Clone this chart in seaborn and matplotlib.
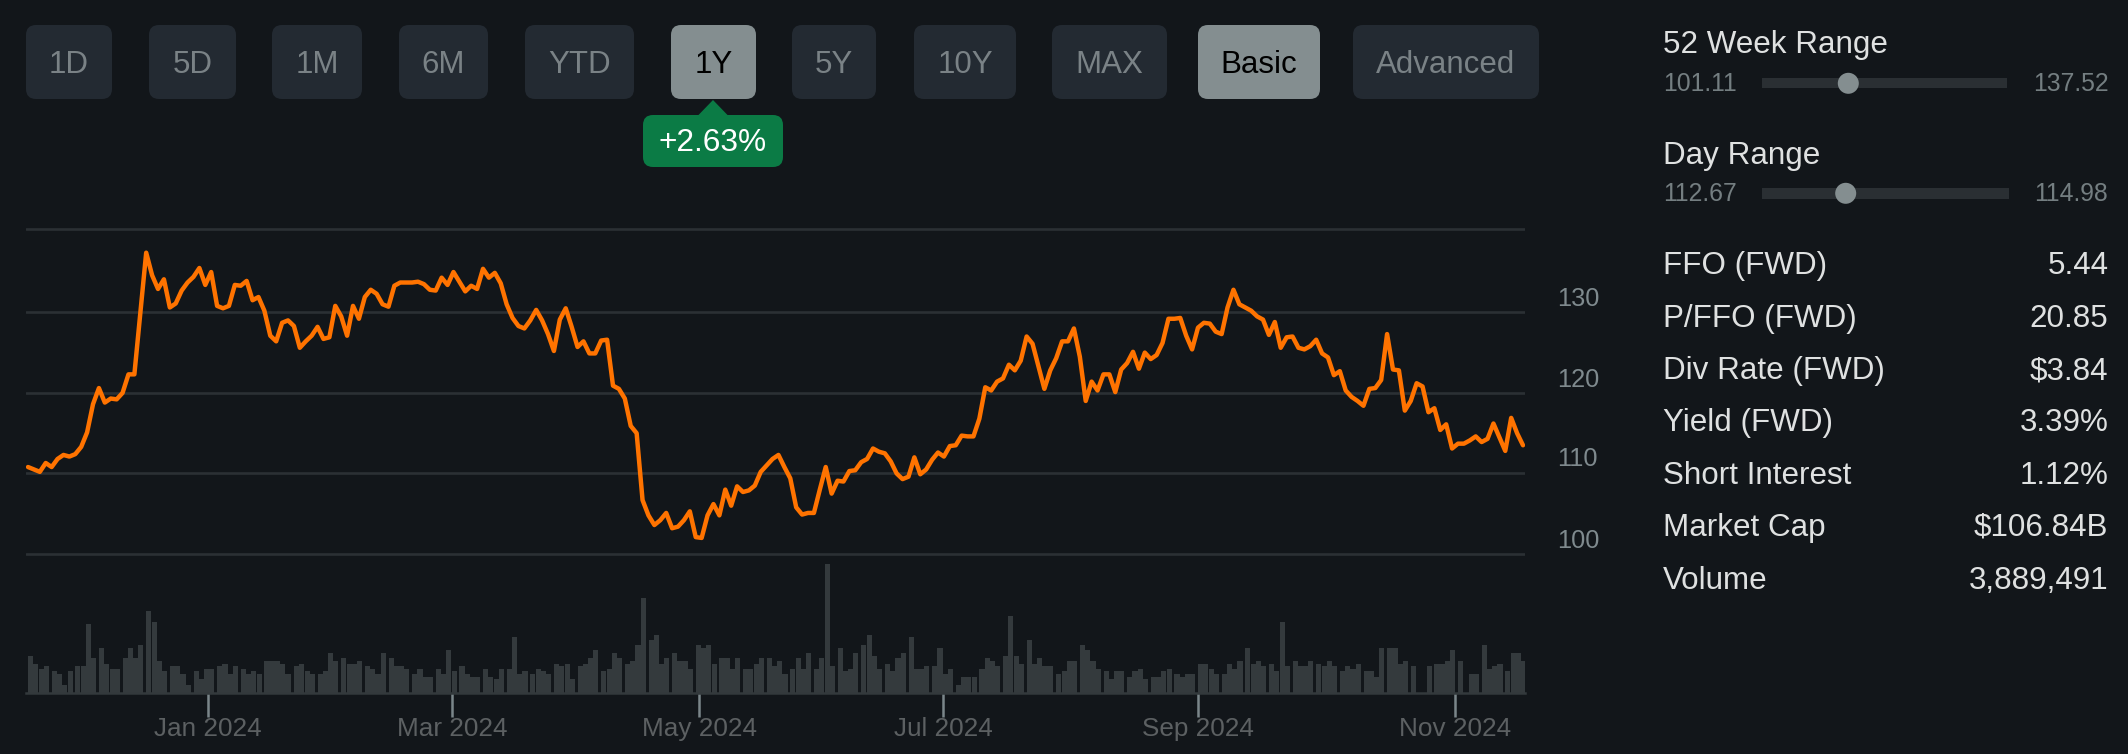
import numpy as np
import matplotlib
matplotlib.use("Agg")
import matplotlib.pyplot as plt
from matplotlib.patches import FancyBboxPatch, Circle, Polygon, Rectangle
from matplotlib.transforms import ScaledTranslation
import seaborn as sns

# ---------- data ----------
price = [
 110.8,110.5,110.2,111.3,110.8,111.8,112.3,112.1,112.4,113.3,115.1,118.6,120.6,118.8,119.3,119.2,120.0,122.3,122.3,129.9,
 137.4,134.6,132.9,134.1,130.6,131.1,132.7,133.7,134.4,135.5,133.4,135.0,130.8,130.5,130.8,133.4,133.3,133.9,131.5,131.9,
 130.2,127.1,126.4,128.7,129.0,128.3,125.6,126.4,127.1,128.2,126.7,126.9,130.8,129.5,127.1,130.8,129.2,131.9,132.8,132.3,
 131.0,130.7,133.3,133.7,133.7,133.7,133.8,133.5,132.8,132.7,134.3,133.4,135.0,133.8,132.6,133.3,132.9,135.4,134.3,134.9,
 133.6,131.0,129.3,128.3,128.0,129.0,130.3,129.0,127.3,
 125.2,129.1,130.5,128.2,125.7,126.4,124.9,124.9,126.5,126.6,120.9,120.5,119.3,115.9,115.0,106.7,104.8,103.6,104.2,105.1,
 103.2,103.4,104.2,105.3,102.1,102.0,104.8,106.2,104.8,108.0,106.0,108.4,107.7,107.9,108.5,110.2,111.0,111.8,112.3,110.8,
 109.4,105.8,104.9,105.1,105.1,108.0,110.8,107.5,109.1,109.0,110.3,110.4,111.4,111.8,113.1,112.7,112.5,111.5,110.0,109.3,
 109.6,112.0,109.9,110.5,111.7,112.6,112.1,113.4,113.5,114.7,114.6,114.6,116.8,120.7,120.3,121.4,121.8,123.5,122.8,124.0,
 127.0,126.1,123.3,120.5,122.8,124.3,126.4,126.4,128.0,124.5,119.0,121.4,120.3,
 122.3,122.3,120.1,122.9,123.7,125.1,123.0,125.0,124.2,124.7,126.2,129.2,129.2,129.3,127.1,125.4,128.1,128.7,128.6,127.6,
 127.3,130.6,132.8,131.0,130.6,130.2,129.5,129.1,127.2,128.8,125.6,126.9,127.0,125.6,125.4,125.8,126.6,124.9,124.4,122.2,
 122.7,120.3,119.5,119.0,118.4,120.5,120.6,121.6,127.3,122.9,122.8,117.8,119.0,121.2,120.8,117.6,118.1,115.4,116.1,113.1,
 113.7,113.7,114.1,114.6,113.9,114.3,116.2,114.5,112.8,116.9,115.0,113.5,
]
volume_m = [
 4.50,3.52,2.92,3.24, 2.59,2.27,0.97,2.59, 3.24,3.24,8.30,4.17, 5.47,3.52,2.92,2.92, 4.17,5.47,4.17,5.75,
 9.92,8.63,3.89,2.59, 3.24,3.24,2.27,0.97, 2.59,1.62,2.92,2.92, 3.24,3.52,2.27,3.24, 2.92,2.27,2.59,2.27,
 3.89,3.89,3.89,3.52,2.27, 3.24,3.52,2.59,2.27, 2.27,2.59,4.82,3.89, 4.17,3.52,3.52,3.89, 3.24,2.92,2.27,4.82,
 4.17,3.24,3.24,2.92, 2.27,2.92,1.94,1.94, 2.92,2.27,5.14,2.59, 3.24,2.27,1.94,1.94, 2.92,1.94,1.62,2.92,
 2.92,6.72,2.27,2.59, 2.27,2.92,2.59,2.27,
 3.52,3.24,3.52,1.62, 3.24,3.52,4.17,5.14, 2.59,2.92,4.82,4.17, 3.52,3.89,5.75,11.54, 6.44,7.05,3.52,4.17,
 4.82,3.89,3.89,2.92, 5.75,5.47,5.75,3.52, 4.17,4.17,2.92,4.17, 2.92,2.92,3.52,4.17, 4.17,3.24,3.89,2.27,
 2.92,4.17,2.92,4.82, 2.92,4.17,15.67,3.24, 5.47,2.59,2.92,4.82, 5.75,7.05,4.50,2.92, 3.52,2.59,4.17,4.82,
 6.72,2.92,2.92,3.24, 3.24,5.47,2.27,2.92, 0.97,1.94,1.94,1.94, 2.92,4.17,3.89,3.24, 4.50,9.27,4.50,3.52,
 6.44,3.52,4.17,3.24,3.24,
 2.27,2.59,3.89,3.89, 5.75,5.14,3.89,2.92, 2.59,1.62,2.59,2.59, 1.94,2.59,2.92,1.62, 1.94,1.94,2.59,2.92,
 2.27,1.94,2.27,2.27, 3.52,3.52,2.92,2.27, 2.27,3.52,2.92,3.89, 5.47,3.52,3.89,3.24, 3.52,2.59,8.63,3.24,
 3.89,3.24,3.24,3.89, 3.52,3.24,3.89,3.24, 2.59,3.24,2.92,3.52, 2.59,2.59,1.94,5.47, 5.47,5.47,3.52,3.89,
 3.24,0,0,3.24, 3.52,3.52,3.89,5.14, 3.89,0,2.27,2.27, 5.75,2.92,3.24,3.52, 2.59,4.82,4.82,3.89,
]
bar_group_sizes = [4]*10 + [5] + [4]*31 + [5] + [4]*20
x_tick_sessions = [30.5, 71.8, 113.6, 154.9, 198.0, 241.5]
x_tick_labels = ["Jan 2024", "Mar 2024", "May 2024", "Jul 2024", "Sep 2024", "Nov 2024"]
grid_values = [100, 110.1, 119.95, 130, 140.4]
y_tick_labels = ["100", "110", "120", "130", ""]

range_buttons = ["1D", "5D", "1M", "6M", "YTD", "1Y", "5Y", "10Y", "MAX", "Basic", "Advanced"]
active_buttons = ["1Y", "Basic"]
change_label = "+2.63%"
stat_names = ["FFO (FWD)", "P/FFO (FWD)", "Div Rate (FWD)", "Yield (FWD)", "Short Interest", "Market Cap", "Volume"]
stat_values = ["5.44", "20.85", "$3.84", "3.39%", "1.12%", "$106.84B", "3,889,491"]
range_titles = ["52 Week Range", "Day Range"]
range_lows = ["101.11", "112.67"]
range_highs = ["137.52", "114.98"]

# ---------- style ----------
BG = "#12161a"; GRID = "#2b3034"; ORANGE = "#ff7300"; BAR = "#343a3d"
BTN = "#232a32"; BTN_ON = "#848e90"; MUTED = "#7a8286"; LIGHT = "#dfe1e1"; TICK = "#7f8a8e"
W, H = 2128, 754
sns.set_theme(style="dark", rc={"figure.facecolor": BG, "axes.facecolor": "none", "savefig.facecolor": BG})
plt.rcParams["font.family"] = ["Liberation Sans", "DejaVu Sans"]

fig = plt.figure(figsize=(W/100, H/100), dpi=100)
def px_axes(left, top, right, bottom, **kw):
    return fig.add_axes([left/W, 1-bottom/H, (right-left)/W, (bottom-top)/H], **kw)

# ---------- UI layer ----------
ui = px_axes(0, 0, W, H)
ui.set_xlim(0, W); ui.set_ylim(H, 0); ui.axis("off")
button_spans = [(26,112),(149,236),(272,362),(399,488),(525,634),(671,756),(792,876),(914,1016),(1052,1167),(1198,1320),(1353,1539)]
for label, (a, b) in zip(range_buttons, button_spans):
    on = label in active_buttons
    r = 10
    ui.add_patch(FancyBboxPatch((a+r, 25+r), b-a-2*r, 74-2*r, boxstyle=f"round,pad={r},rounding_size={r}",
                                fc=BTN_ON if on else BTN, ec="none"))
    ui.text((a+b)/2, 72.7, label, ha="center", va="baseline", fontsize=22.5, color="black" if on else MUTED)
ui.add_patch(Polygon([(713,100),(698,115.5),(728,115.5)], fc="#0b7b45", ec="none"))
ui.add_patch(FancyBboxPatch((653,125), 120, 32, boxstyle="round,pad=10,rounding_size=10", fc="#0b7b45", ec="none"))
ui.text(713, 150.7, change_label, ha="center", va="baseline", fontsize=22.8, color="white")

LX, RX = 1663, 2108.3
slider_spans = [(1762,2007,78,88,1848.3,83.3), (1762,2009,188,199,1845.7,193.3)]
for title, lo, hi, by, vy, (a,b,t,d,cx,cy) in zip(range_titles, range_lows, range_highs, [53.3,164], [91,201.3], slider_spans):
    ui.text(LX, by, title, fontsize=22.6, color=LIGHT, va="baseline")
    ui.text(LX, vy, lo, fontsize=17.8, color="#747e81", va="baseline")
    ui.text(RX, vy, hi, fontsize=17.8, color="#747e81", va="baseline", ha="right")
    ui.add_patch(Rectangle((a,t), b-a, d-t, fc="#2a2f33", ec="none"))
    ui.add_patch(Circle((cx,cy), 10.5, fc=BTN_ON, ec="none"))
for name, val, by in zip(stat_names, stat_values, [274.3,326.7,379,431,484.3,536,589]):
    ui.text(LX, by, name, fontsize=22.6, color=LIGHT, va="baseline")
    ui.text(RX, by, val, fontsize=22.6, color=LIGHT, va="baseline", ha="right")

# ---------- volume ----------
sessions = np.arange(len(price))
bar_x = []
start = 0
for size in bar_group_sizes:
    bar_x += [start + 0.45 + 0.888*k for k in range(size)]
    start += size
xlim = (-0.34, 253.34)
ax_v = px_axes(26, 554, 1525, 692.8)
sns.barplot(x=np.array(bar_x), y=np.array(volume_m), native_scale=True, width=0.97, color=BAR,
            saturation=1, errorbar=None, ax=ax_v)
ax_v.set_xlim(*xlim); ax_v.set_ylim(0, 16.86)
ax_v.set_yticks([]); ax_v.set_ylabel(""); ax_v.set_xlabel("")
for s in ["top", "left", "right"]:
    ax_v.spines[s].set_visible(False)
ax_v.spines["bottom"].set_color("#33393c"); ax_v.spines["bottom"].set_linewidth(1.8)
ax_v.set_xticks(x_tick_sessions); ax_v.set_xticklabels(x_tick_labels)
ax_v.tick_params(axis="x", length=17.3, width=1.8, color="#7b868a", labelcolor="#5c6062",
                 labelsize=18.8, pad=0, bottom=True)
for t in ax_v.patches:
    t.set_linewidth(0)

# ---------- price ----------
ax_p = px_axes(26, 210, 1525, 560)
sns.lineplot(x=sessions, y=price, color=ORANGE, lw=3.2, ax=ax_p, errorbar=None,
             solid_joinstyle="round", solid_capstyle="round")
ax_p.set_xlim(*xlim); ax_p.set_ylim(99.26, 142.7)
ax_p.set_xticks([]); ax_p.set_xlabel(""); ax_p.set_ylabel("")
for s in ax_p.spines.values():
    s.set_visible(False)
ax_p.yaxis.tick_right()
ax_p.set_yticks(grid_values); ax_p.set_yticklabels(y_tick_labels)
ax_p.tick_params(axis="y", length=0, labelsize=18.3, labelcolor=TICK, pad=23.2)
ax_p.grid(True, axis="y", color=GRID, lw=1.9)
ax_p.set_axisbelow(True)
up = ScaledTranslation(0, 6.3/100, fig.dpi_scale_trans)
for tick in ax_p.yaxis.get_major_ticks():
    tick.label2.set_va("baseline")
    tick.label2.set_transform(tick.label2.get_transform() + up)

fig.savefig("out.png", dpi=100, facecolor=BG)
